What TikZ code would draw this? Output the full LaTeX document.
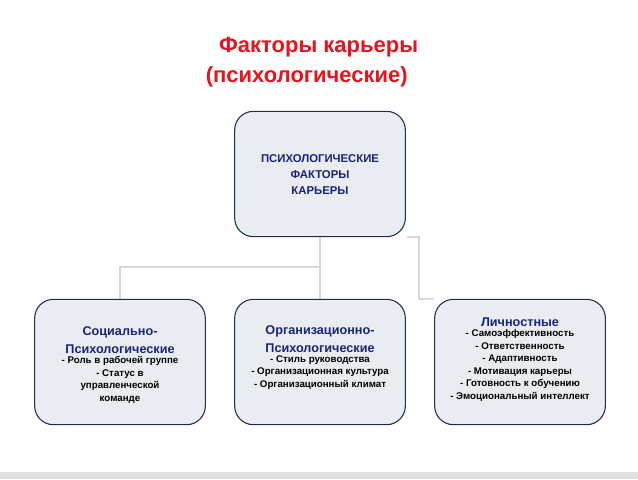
\documentclass[tikz,border=0pt]{standalone}
\usepackage{fontspec}
\setmainfont{Liberation Sans}
\usetikzlibrary{positioning,backgrounds}
\definecolor{boxfill}{HTML}{E9ECF1}
\definecolor{boxline}{HTML}{1F2F4F}
\definecolor{navy}{HTML}{1A237E}
\definecolor{titlered}{HTML}{E8141B}
\definecolor{wire}{HTML}{D8D8D8}
\tikzset{
	factor/.style   = {draw=boxline, fill=boxfill, thick, rounded corners=14pt,
		minimum width=128pt, minimum height=94pt},
	itemtext/.style = {align=center, inner sep=0pt,
		font=\bfseries\fontsize{7.3}{9.4}\selectfont},
	head/.style     = {text=navy, inner sep=0pt, font=\bfseries\fontsize{9.5}{13}\selectfont},
	wire/.style     = {draw=wire, line width=1.2pt}
}
\begin{document}
\begin{tikzpicture}[x=0.75pt, y=-0.75pt]
	\useasboundingbox (0,0) rectangle (638,479);
	\fill[gray!25] (0,472) rectangle (638,479);
	\node[text=titlered, font=\bfseries\fontsize{16.5}{22}\selectfont, align=left] (title) at (312,62)
		{\hspace*{10pt}Факторы карьеры\\(психологические)};
	% boxes
	\node[factor] (top) at (320,174) {};
	\node[factor] (soc) at (120,362) {};
	\node[factor] (org) at (320,362) {};
	\node[factor] (pers) at (520,362) {};
	% texts
	\node[head, align=center, font=\bfseries\fontsize{8.5}{12}\selectfont] (topt) at (320,175) {ПСИХОЛОГИЧЕСКИЕ\\ФАКТОРЫ\\КАРЬЕРЫ};
	\node[head, align=center] (soch) at (120,340) {Социально-\\Психологические};
	\node[itemtext, below=2pt of soch] (soct) {- Роль в рабочей группе\\- Статус в\\управленческой\\команде};
	\node[head, align=center] (orgh) at (320,339) {Организационно-\\Психологические};
	\node[itemtext, below=2pt of orgh] (orgt) {- Стиль руководства\\- Организационная культура\\- Организационный климат};
	\node[head] (persh) at (520,322) {Личностные};
	\node[itemtext, below=2pt of persh] (perst) {- Самоэффективность\\- Ответственность\\- Адаптивность\\- Мотивация карьеры\\- Готовность к обучению\\- Эмоциональный интеллект};
	% connectors
	\coordinate (hub) at (320,267);
	\coordinate (rt) at (407,237);
	\coordinate (rb) at (419,299);
	\begin{scope}[on background layer]
	\draw[wire] (top.south) -- (hub) -| (soc.north);
	\draw[wire] (hub) -- (org.north);
	\draw[wire] (rt) -| (rb) -- (pers.north west);
	\end{scope}
\end{tikzpicture}
\end{document}
